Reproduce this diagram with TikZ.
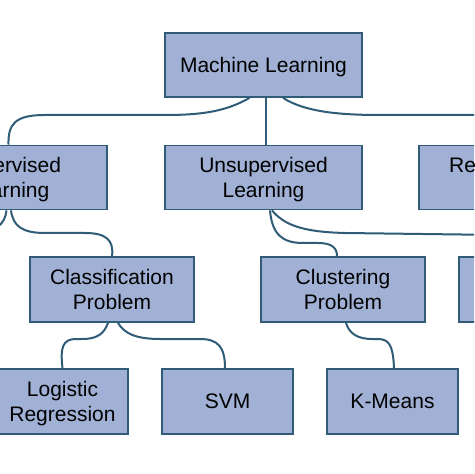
\documentclass[tikz,border=0pt]{standalone}
\usepackage{fontspec}
\setmainfont{Liberation Sans}
\usepackage{tikz}

\definecolor{boxfill}{RGB}{160,177,213}
\definecolor{boxline}{RGB}{48,92,120}

\tikzset{
  box/.style={draw=boxline, fill=boxfill, line width=0.9pt, align=center,
    inner sep=0pt, text depth=0pt, font=\fontsize{10.5}{12.5}\selectfont},
  bigbox/.style={box, minimum width=98.5pt, minimum height=32pt},
  midbox/.style={box, minimum width=82pt, minimum height=32.5pt},
  smallbox/.style={box, minimum width=65.5pt, minimum height=32.5pt},
  link/.style={draw=boxline, line width=1pt}
}

\begin{document}
\begin{tikzpicture}[x=0.5pt, y=-0.5pt]
  \clip (0,0) rectangle (474,474);
  \fill[white] (0,0) rectangle (474,474);

  % top level
  \node[bigbox] (ml) at (263.5,65) {Machine Learning};

  % second row
  \node[bigbox] (sup)   at (8.5,177.5)   {Supervised\\Learning};
  \node[bigbox] (unsup) at (263.5,177.5) {Unsupervised\\Learning};
  \node[bigbox] (reinf) at (517.5,177.5) {Reinforcement\\Learning};

  % third row
  \node[midbox] (classif) at (112,289.5) {Classification\\Problem};
  \node[midbox] (cluster) at (343,289.5) {Clustering\\Problem};
  \node[midbox] (dimred)  at (541,289.5) {};
  \coordinate (regr) at (-110,257);

  % fourth row
  \node[smallbox] (logreg) at (62.5,401.5)  {Logistic\\Regression};
  \node[smallbox] (svm)    at (227.5,401.5) {SVM};
  \node[smallbox] (kmeans) at (392.5,401.5) {K-Means};

  % connectors
  \draw[link] ([xshift=-7pt]ml.south) .. controls (225,112) and (200,115) .. (165,115)
    -- (45,115) .. controls (15,115) and (8,124) .. (sup.north);
  \draw[link] ([xshift=1.25pt]ml.south) -- ([xshift=1.25pt]unsup.north);
  \draw[link] ([xshift=9.75pt]ml.south) .. controls (305,112) and (340,115) .. (380,115)
    -- (480,115) .. controls (510,115) and (517.5,124) .. (reinf.north);

  \draw[link] ([xshift=1.25pt]sup.south) .. controls (13,226) and (22,233) .. (45,233)
    -- (85,233) .. controls (106,233) and (114,240) .. (classif.north);
  \draw[link] ([xshift=-1pt]sup.south) .. controls (5,225) and (-5,233) .. (-30,233)
    -- (-80,233) .. controls (-100,233) and (-110,240) .. (regr);

  \draw[link] ([xshift=3.25pt]unsup.south) .. controls (272,234) and (282,243) .. (303,243)
    -- (318,243) .. controls (332,243) and (337,248) .. ([xshift=-3pt]cluster.north);
  \draw[link] ([xshift=4.25pt]unsup.south) .. controls (285,226) and (305,232) .. (345,233)
    -- (500,235) .. controls (530,236) and (541,243) .. (dimred.north);

  \draw[link] ([xshift=-2pt]classif.south) .. controls (104,334) and (97,339) .. (82,339)
    -- (76,339) .. controls (63,339) and (60,347) .. (logreg.north);
  \draw[link] ([xshift=3pt]classif.south) .. controls (124,333) and (135,339) .. (160,339)
    -- (200,339) .. controls (218,339) and (225,347) .. ([xshift=-1.25pt]svm.north);

  \draw[link] ([xshift=1.5pt]cluster.south) .. controls (349,333) and (357,339) .. (372,339)
    -- (378,339) .. controls (390,339) and (393,347) .. ([xshift=0.75pt]kmeans.north);
\end{tikzpicture}
\end{document}
